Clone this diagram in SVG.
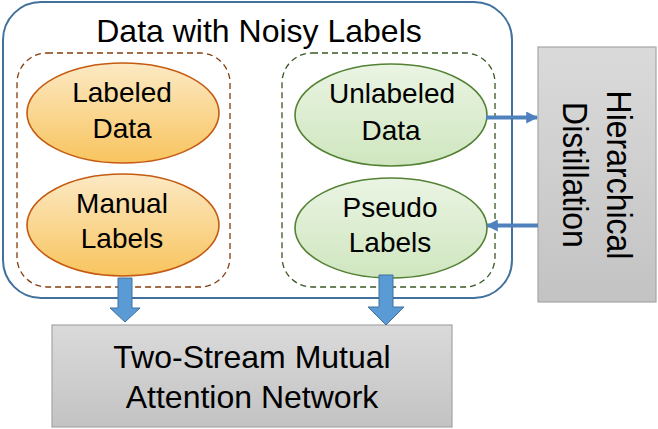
<svg xmlns="http://www.w3.org/2000/svg" width="658" height="429" viewBox="0 0 658 429">
<defs>
<linearGradient id="gOr" x1="0" y1="0" x2="0" y2="1"><stop offset="0" stop-color="#FCE9C4"/><stop offset="1" stop-color="#F8C45E"/></linearGradient>
<linearGradient id="gGr" x1="0" y1="0" x2="0" y2="1"><stop offset="0" stop-color="#EAF4E3"/><stop offset="1" stop-color="#CFE6BF"/></linearGradient>
<linearGradient id="gGy" x1="0" y1="0" x2="0" y2="1"><stop offset="0" stop-color="#DADADA"/><stop offset="1" stop-color="#C3C3C3"/></linearGradient>
<marker id="ah" viewBox="0 0 10 10" refX="9" refY="5" markerWidth="3" markerHeight="3" orient="auto" markerUnits="strokeWidth"><path d="M0,0 L10,5 L0,10 z" fill="#4F81BD"/></marker>
<style>
text{font-family:"Liberation Sans",Arial,sans-serif;fill:#000;}
.t{font-size:28px;text-anchor:middle;}
.big{font-size:32px;text-anchor:middle;}
.or{fill:url(#gOr);stroke:#C55A11;stroke-width:1.6;}
.gr{fill:url(#gGr);stroke:#548235;stroke-width:1.6;}
.box{fill:url(#gGy);stroke:#A6A6A6;stroke-width:1.2;}
.dashO{fill:none;stroke:#843C0C;stroke-width:1.3;stroke-dasharray:6 4;}
.dashG{fill:none;stroke:#385723;stroke-width:1.3;stroke-dasharray:6 4;}
.fat{fill:#5B9BD5;stroke:#41719C;stroke-width:1;}
.thin{fill:none;stroke:#4F81BD;stroke-width:4;}
</style>
</defs>
<g id="noisy">
<rect x="3" y="2" width="509" height="296" rx="38" fill="#FFFFFF" stroke="#41719C" stroke-width="2"/>
<text class="big" x="259" y="42">Data with Noisy Labels</text>
</g>
<g id="labeledGroup"><rect class="dashO" x="17" y="53" width="213" height="234" rx="30"/></g>
<g id="unlabeledGroup"><rect class="dashG" x="282" y="53" width="213" height="234" rx="30"/></g>
<g id="labeledData">
<ellipse class="or" cx="123" cy="113" rx="96" ry="50"/>
<text class="t" x="122" y="102">Labeled</text><text class="t" x="122" y="138">Data</text>
</g>
<g id="manualLabels">
<ellipse class="or" cx="123" cy="225" rx="96" ry="51"/>
<text class="t" x="122" y="213">Manual</text><text class="t" x="122" y="248">Labels</text>
</g>
<g id="unlabeledData">
<ellipse class="gr" cx="391" cy="115" rx="96" ry="51"/>
<text class="t" x="392" y="103">Unlabeled</text><text class="t" x="391" y="140">Data</text>
</g>
<g id="pseudoLabels">
<ellipse class="gr" cx="391" cy="228" rx="96" ry="50"/>
<text class="t" x="390" y="217">Pseudo</text><text class="t" x="390" y="252">Labels</text>
</g>
<g id="distillation">
<rect class="box" x="538" y="47" width="118" height="255"/>
<text class="big" transform="translate(607,175) rotate(90) scale(1,1.12)" x="0" y="0">Hierarchical</text>
<text class="big" transform="translate(563,175) rotate(90) scale(1,1.12)" x="0" y="0">Distillation</text>
</g>
<g id="network">
<rect class="box" x="52" y="325" width="400" height="102"/>
<text class="big" x="252" y="368">Two-Stream Mutual</text>
<text class="big" x="252" y="408">Attention Network</text>
</g>
<g id="connectors">
<path class="fat" d="M118,278 L132,278 L132,308 L140,308 L125,322 L110,308 L118,308 z"/>
<path class="fat" d="M379,275 L393,275 L393,307 L404,307 L386,325 L368,307 L379,307 z"/>
<line class="thin" x1="486" y1="117.5" x2="537" y2="117.5" marker-end="url(#ah)"/>
<line class="thin" x1="538" y1="225.5" x2="487" y2="225.5" marker-end="url(#ah)"/>
</g>
</svg>
